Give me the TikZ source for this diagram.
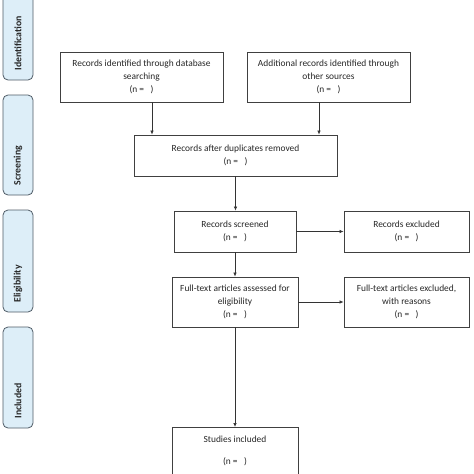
\documentclass[tikz,border=0pt]{standalone}
\usepackage{fontspec}
\setmainfont{Carlito}
\usetikzlibrary{arrows.meta}
\definecolor{phasefill}{HTML}{DDEEF8}
\definecolor{phaseline}{HTML}{4F5B66}
\definecolor{boxline}{HTML}{404040}
\begin{document}
\begin{tikzpicture}[x=1pt,y=-1pt,
  box/.style={draw=boxline,line width=0.8pt,align=center,inner sep=0pt,
    text=black!85,font=\fontsize{9.4}{13}\selectfont},
  phase/.style={draw=phaseline,fill=phasefill,line width=0.8pt,
    rounded corners=5pt,minimum width=30pt},
  phasetxt/.style={rotate=90,anchor=west,text=black!85,
    font=\fontsize{9.8}{12}\selectfont\bfseries},
  arr/.style={-{Latex[length=4pt,width=3.5pt]},line width=0.7pt,draw=black!80}]
\clip (0,0) rectangle (474,474);

% phases
\node[phase,minimum height=100pt] (idf) at (18,30) {};
\node[phase,minimum height=100pt] (scg) at (18,145) {};
\node[phase,minimum height=102pt] (elg) at (18,261) {};
\node[phase,minimum height=101pt] (icl) at (18,377.5) {};
\node[phasetxt] (idft) at (18,74) {Identification};
\node[phasetxt] (scgt) at (18,189) {Screening};
\node[phasetxt] (elgt) at (18,306) {Eligibility};
\node[phasetxt] (iclt) at (18,422) {Included};

% boxes
\node[box,minimum width=163pt,minimum height=50pt] (dbs) at (141.5,77)
  {Records identified through database\\searching\\(n =\ \ \ )};
\node[box,minimum width=163pt,minimum height=50pt] (oth) at (328.5,77)
  {Additional records identified through\\other sources\\(n =\ \ \ )};
\node[box,minimum width=203pt,minimum height=41pt] (dup) at (235.5,155.5)
  {Records after duplicates removed\\(n =\ \ \ )};
\node[box,minimum width=122pt,minimum height=41pt] (scr) at (235,231.5)
  {Records screened\\(n =\ \ \ )};
\node[box,minimum width=125pt,minimum height=41pt] (exc) at (406.5,231.5)
  {Records excluded\\(n =\ \ \ )};
\node[box,minimum width=126pt,minimum height=50pt] (ful) at (235,302)
  {Full-text articles assessed for\\eligibility\\(n =\ \ \ )};
\node[box,minimum width=125pt,minimum height=50pt] (fex) at (406.5,302)
  {Full-text articles excluded,\\with reasons\\(n =\ \ \ )};
\node[box,anchor=north,minimum width=126pt,inner ysep=9pt] (inc) at (235,427)
  {Studies included\\[9pt](n =\ \ \ )};

% arrows
\draw[arr] ([xshift=10.5pt]dbs.south) -- ([xshift=10.5pt]dbs.south |- dup.north);
\draw[arr] ([xshift=-9.5pt]oth.south) -- ([xshift=-9.5pt]oth.south |- dup.north);
\draw[arr] (dup.south) -- (dup.south |- scr.north);
\draw[arr] (scr) -- (exc);
\draw[arr] (scr) -- (ful);
\draw[arr] (ful) -- (fex);
\draw[arr] (ful) -- (inc);

\end{tikzpicture}
\end{document}
